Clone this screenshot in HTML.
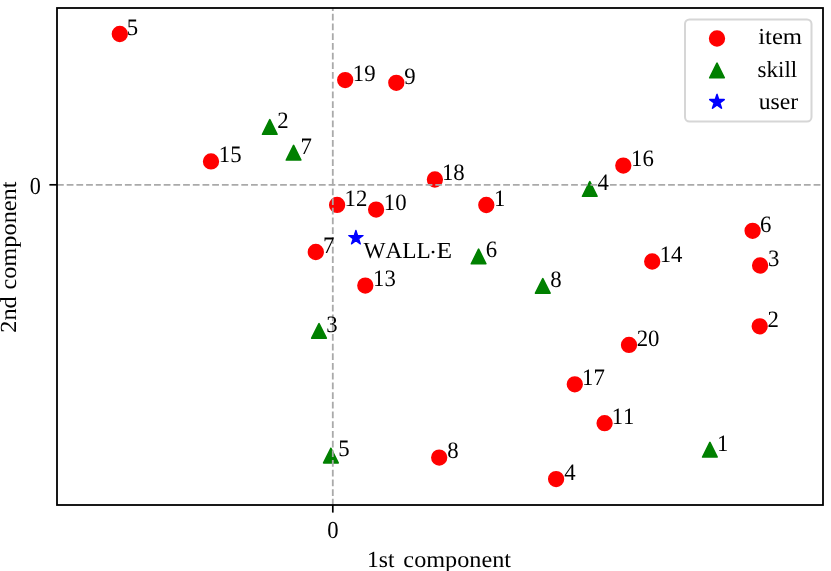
<!DOCTYPE html>
<html><head><meta charset="utf-8"><style>
html,body{margin:0;padding:0;background:#fff;}
svg{display:block;}
text{font-family:"Liberation Serif","DejaVu Serif",serif;fill:#000;text-rendering:geometricPrecision;font-kerning:none;font-feature-settings:"kern" 0;}
</style></head><body>
<svg width="831" height="571" viewBox="0 0 831 571">
<rect x="0" y="0" width="831" height="571" fill="#fff"/>
<g fill="#ff0000" stroke="#ff0000" stroke-width="1.6">
<circle cx="119.8" cy="34.0" r="7.35"/>
<circle cx="345.2" cy="80.1" r="7.35"/>
<circle cx="396.3" cy="82.8" r="7.35"/>
<circle cx="211.0" cy="161.4" r="7.35"/>
<circle cx="337.1" cy="204.9" r="7.35"/>
<circle cx="376.1" cy="209.6" r="7.35"/>
<circle cx="434.9" cy="179.5" r="7.35"/>
<circle cx="486.3" cy="205.0" r="7.35"/>
<circle cx="623.3" cy="165.6" r="7.35"/>
<circle cx="315.8" cy="252.0" r="7.35"/>
<circle cx="365.3" cy="285.6" r="7.35"/>
<circle cx="652.2" cy="261.5" r="7.35"/>
<circle cx="752.6" cy="230.8" r="7.35"/>
<circle cx="760.1" cy="265.5" r="7.35"/>
<circle cx="759.7" cy="326.3" r="7.35"/>
<circle cx="629.0" cy="344.9" r="7.35"/>
<circle cx="574.8" cy="384.3" r="7.35"/>
<circle cx="604.6" cy="423.2" r="7.35"/>
<circle cx="439.2" cy="457.6" r="7.35"/>
<circle cx="556.1" cy="479.1" r="7.35"/>
</g>
<g fill="#008000" stroke="#008000" stroke-width="1.6" stroke-linejoin="round">
<path d="M269.80,119.70L262.50,134.30L277.10,134.30Z"/>
<path d="M293.60,145.40L286.30,160.00L300.90,160.00Z"/>
<path d="M589.80,181.70L582.50,196.30L597.10,196.30Z"/>
<path d="M478.60,249.20L471.30,263.80L485.90,263.80Z"/>
<path d="M542.80,278.60L535.50,293.20L550.10,293.20Z"/>
<path d="M319.00,323.60L311.70,338.20L326.30,338.20Z"/>
<path d="M330.90,448.30L323.60,462.90L338.20,462.90Z"/>
<path d="M709.90,442.40L702.60,457.00L717.20,457.00Z"/>
</g>
<g fill="#0000ff" stroke="#0000ff" stroke-width="1.2" stroke-linejoin="round">
<path d="M355.90,230.25L354.19,235.50L348.67,235.50L353.14,238.75L351.43,244.00L355.90,240.75L360.37,244.00L358.66,238.75L363.13,235.50L357.61,235.50Z"/>
</g>
<g stroke="#aaaaaa" stroke-width="1.8" stroke-dasharray="6.77 2.93" fill="none">
<line x1="57" y1="184.8" x2="823" y2="184.8"/>
<line x1="332.8" y1="505.6" x2="332.8" y2="8"/>
</g>
<g font-size="23.5">
<text transform="translate(126.78,34.80) scale(0.97,1)">5</text>
<text transform="translate(352.80,80.90) scale(0.97,1)">19</text>
<text transform="translate(404.17,83.60) scale(0.97,1)">9</text>
<text transform="translate(218.80,162.20) scale(0.97,1)">15</text>
<text transform="translate(344.60,205.70) scale(0.97,1)">12</text>
<text transform="translate(383.80,210.40) scale(0.97,1)">10</text>
<text transform="translate(441.90,180.30) scale(0.97,1)">18</text>
<text transform="translate(493.90,205.80) scale(0.97,1)">1</text>
<text transform="translate(631.10,166.40) scale(0.97,1)">16</text>
<text transform="translate(322.90,252.80) scale(0.97,1)">7</text>
<text transform="translate(373.10,286.40) scale(0.97,1)">13</text>
<text transform="translate(659.70,262.30) scale(0.97,1)">14</text>
<text transform="translate(760.02,231.60) scale(0.97,1)">6</text>
<text transform="translate(768.01,266.30) scale(0.97,1)">3</text>
<text transform="translate(767.60,327.10) scale(0.97,1)">2</text>
<text transform="translate(636.70,345.70) scale(0.97,1)">20</text>
<text transform="translate(582.10,385.10) scale(0.97,1)">17</text>
<text transform="translate(611.70,424.00) scale(0.97,1)">11</text>
<text transform="translate(447.23,458.40) scale(0.97,1)">8</text>
<text transform="translate(564.35,479.90) scale(0.97,1)">4</text>
<text transform="translate(277.20,127.80) scale(0.97,1)">2</text>
<text transform="translate(300.60,153.50) scale(0.97,1)">7</text>
<text transform="translate(597.45,189.80) scale(0.97,1)">4</text>
<text transform="translate(485.82,257.30) scale(0.97,1)">6</text>
<text transform="translate(550.23,286.70) scale(0.97,1)">8</text>
<text transform="translate(326.31,331.70) scale(0.97,1)">3</text>
<text transform="translate(338.28,456.40) scale(0.97,1)">5</text>
<text transform="translate(717.10,450.50) scale(0.97,1)">1</text>
</g>
<rect x="57" y="8" width="766" height="497" fill="none" stroke="#000" stroke-width="1.8"/>
<line x1="332.8" y1="505" x2="332.8" y2="512.6" stroke="#000" stroke-width="1.7"/>
<line x1="49.4" y1="184.8" x2="57" y2="184.8" stroke="#000" stroke-width="1.7"/>
<text transform="translate(327.34,538.30) scale(0.9245,1)" font-size="24.5">0</text>
<text transform="translate(29.66,194.00) scale(0.9053,1)" font-size="24.5">0</text>
<text y="566.5" font-size="23"><tspan x="367.03" textLength="27.51" lengthAdjust="spacingAndGlyphs">1st</tspan> <tspan x="403.38" textLength="107.66" lengthAdjust="spacingAndGlyphs">component</tspan></text>
<text transform="translate(16.4,0) rotate(-90)" y="0" font-size="23"><tspan x="-332.67" textLength="36.36" lengthAdjust="spacingAndGlyphs">2nd</tspan> <tspan x="-289.63" textLength="108.17" lengthAdjust="spacingAndGlyphs">component</tspan></text>
<rect x="685" y="19.5" width="126.5" height="102" rx="4.5" ry="4.5" fill="#fff" fill-opacity="0.8" stroke="#d6d6d6" stroke-width="2"/>
<circle cx="717" cy="38.5" r="7.35" fill="#ff0000" stroke="#ff0000" stroke-width="1.6"/>
<g fill="#008000" stroke="#008000" stroke-width="1.6" stroke-linejoin="round"><path d="M717.00,63.20L709.70,77.80L724.30,77.80Z"/></g>
<g fill="#0000ff" stroke="#0000ff" stroke-width="1.6" stroke-linejoin="round"><path d="M717.00,94.40L715.29,99.65L709.77,99.65L714.24,102.90L712.53,108.15L717.00,104.90L721.47,108.15L719.76,102.90L724.23,99.65L718.71,99.65Z"/></g>
<text transform="translate(363.38,257.90) scale(1.0136,1)" font-size="23">WALL<tspan x="64.64" y="1.85" font-size="24">·</tspan><tspan x="72.10" y="0" textLength="15.40" lengthAdjust="spacingAndGlyphs">E</tspan></text>
<text transform="translate(758.18,44.40) scale(1.0740,1)" font-size="23">item</text>
<text transform="translate(757.56,76.50) scale(0.9995,1)" font-size="23">skill</text>
<text transform="translate(758.69,108.60) scale(1.0287,1)" font-size="23">user</text>
</svg></body></html>
